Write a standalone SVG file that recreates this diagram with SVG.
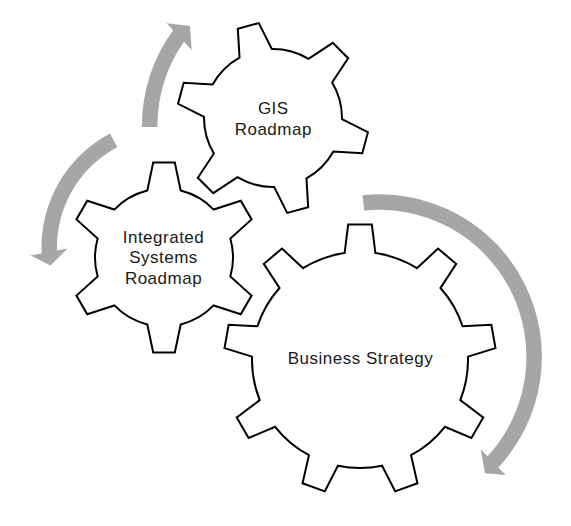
<svg xmlns="http://www.w3.org/2000/svg" width="571" height="526" viewBox="0 0 571 526">
  <style>
    .gear { fill: #ffffff; stroke: #000000; stroke-width: 2; stroke-linejoin: miter; }
    .lbl { font-family: "Liberation Sans", Arial, sans-serif; font-size: 17px; letter-spacing: 0.5px; fill: #1a1a1a; text-anchor: middle; }
    .arrow { fill: #A6A6A6; stroke: none; }
  </style>
  <rect x="0" y="0" width="571" height="526" fill="#ffffff"/>
  <g id="connectors">
    <path class="arrow" d="M 141.85 127 A 165.75 165.75 0 0 1 173.1 30.14 L 166.7 23.3 L 190 26 L 191.7 50 L 183.9 41.7 A 150.25 150.25 0 0 0 157.35 127 Z"/>
    <path class="arrow" d="M 109.97 133.47 A 129.15 129.15 0 0 0 41.59 253.4 L 30.5 255.5 L 50.5 265.5 L 67.5 248.5 L 57 250.5 A 113.65 113.65 0 0 1 117.24 147.15 Z"/>
    <path class="arrow" d="M 362.52 195.14 A 162.45 162.45 0 0 1 498.35 467.4 L 505.7 475 L 485 473.3 L 480.7 449.3 L 487.5 456.3 A 146.95 146.95 0 0 0 364.14 210.56 Z"/>
  </g>
  <g id="gis-roadmap">
    <path class="gear" d="M 239.55 57.65 L 237.82 28.68 L 258.81 23.06 L 271.8 49.01 A 69 69 0 0 1 308.54 58.85 L 332.76 42.87 L 348.13 58.24 L 332.15 82.46 A 69 69 0 0 1 341.99 119.2 L 367.94 132.19 L 362.32 153.18 L 333.35 151.45 A 69 69 0 0 1 306.45 178.35 L 308.18 207.32 L 287.19 212.94 L 274.2 186.99 A 69 69 0 0 1 237.46 177.15 L 213.24 193.13 L 197.87 177.76 L 213.85 153.54 A 69 69 0 0 1 204.01 116.8 L 178.06 103.81 L 183.68 82.82 L 212.65 84.55 A 69 69 0 0 1 239.55 57.65 Z"/>
    <text class="lbl" x="273.3" y="114">GIS</text>
    <text class="lbl" x="273.3" y="135">Roadmap</text>
  </g>
  <g id="integrated-systems-roadmap">
    <path class="gear" d="M 147.31 190.55 L 153.19 162.61 L 174.81 162.61 L 180.69 190.55 A 69 69 0 0 1 213.63 209.57 L 240.77 200.7 L 251.58 219.42 L 230.33 238.48 A 69 69 0 0 1 230.33 276.52 L 251.58 295.58 L 240.77 314.3 L 213.63 305.43 A 69 69 0 0 1 180.69 324.45 L 174.81 352.39 L 153.19 352.39 L 147.31 324.45 A 69 69 0 0 1 114.37 305.43 L 87.23 314.3 L 76.42 295.58 L 97.67 276.52 A 69 69 0 0 1 97.67 238.48 L 76.42 219.42 L 87.23 200.7 L 114.37 209.57 A 69 69 0 0 1 147.31 190.55 Z"/>
    <text class="lbl" x="163.5" y="242.7">Integrated</text>
    <text class="lbl" x="163.5" y="263.3">Systems</text>
    <text class="lbl" x="163.5" y="284.3">Roadmap</text>
  </g>
  <g id="business-strategy">
    <path class="gear" d="M 344.6 253.1 L 348.15 224.52 L 371.85 224.52 L 375.4 253.1 A 108 108 0 0 1 416.92 268.21 L 438.01 248.59 L 456.17 263.83 L 440.51 288.02 A 108 108 0 0 1 462.6 326.27 L 491.37 324.8 L 495.48 348.15 L 467.95 356.61 A 108 108 0 0 1 460.28 400.11 L 483.26 417.47 L 471.41 438.01 L 444.88 426.79 A 108 108 0 0 1 411.04 455.18 L 417.47 483.26 L 395.2 491.37 L 382.09 465.72 A 108 108 0 0 1 337.91 465.72 L 324.8 491.37 L 302.53 483.26 L 308.96 455.18 A 108 108 0 0 1 275.12 426.79 L 248.59 438.01 L 236.74 417.47 L 259.72 400.11 A 108 108 0 0 1 252.05 356.61 L 224.52 348.15 L 228.63 324.8 L 257.4 326.27 A 108 108 0 0 1 279.49 288.02 L 263.83 263.83 L 281.99 248.59 L 303.08 268.21 A 108 108 0 0 1 344.6 253.1 Z"/>
    <text class="lbl" x="360.5" y="364">Business Strategy</text>
  </g>
</svg>
